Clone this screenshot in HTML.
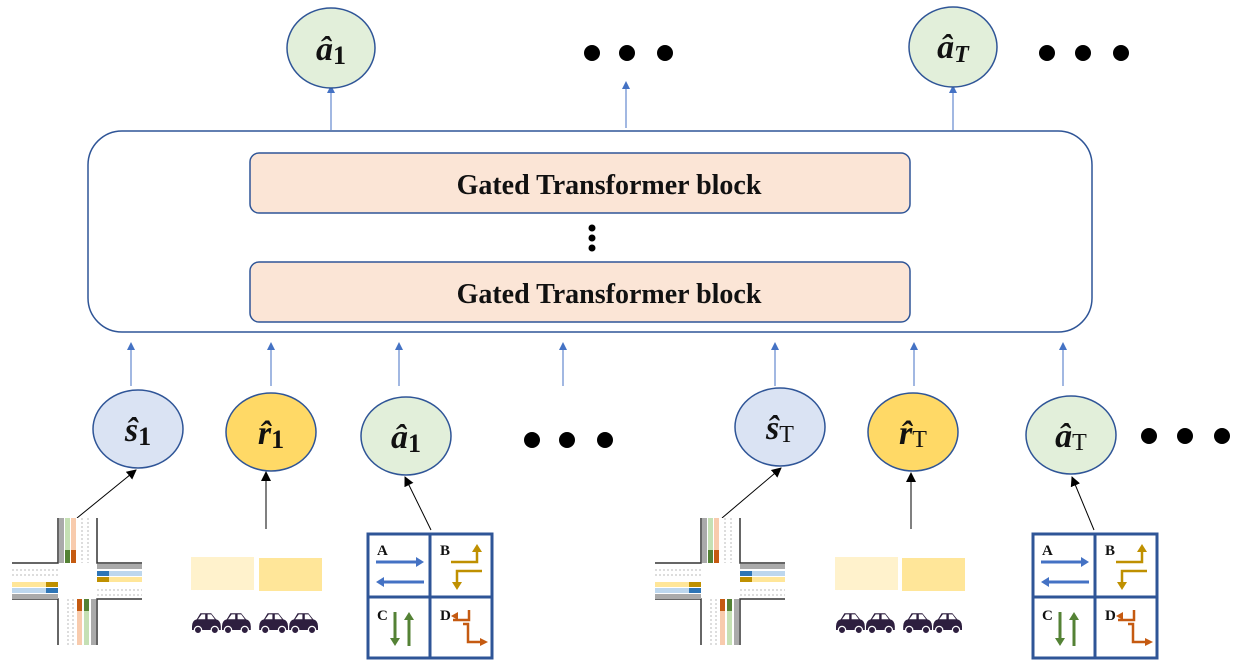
<!DOCTYPE html>
<html><head><meta charset="utf-8"><style>
html,body{margin:0;padding:0;background:#fff;}
svg{display:block;}
.m{font-family:"Liberation Serif",serif;font-style:italic;font-weight:bold;fill:#111;}
.g{font-family:"Liberation Serif",serif;font-weight:bold;fill:#111;}
</style></head><body>
<svg width="1250" height="670" viewBox="0 0 1250 670" xmlns="http://www.w3.org/2000/svg">
<defs>
<marker id="ab" markerWidth="8" markerHeight="8" refX="7" refY="4" orient="auto" markerUnits="userSpaceOnUse"><path d="M0,0 L8,4 L0,8z" fill="#4472c4"/></marker>
<marker id="ak" markerWidth="10" markerHeight="10" refX="9" refY="5" orient="auto" markerUnits="userSpaceOnUse"><path d="M0,0 L10,5 L0,10z" fill="#000"/></marker>
<g id="inter">
 <rect x="46" y="0" width="39" height="127" fill="#fff"/>
 <rect x="0" y="45" width="130" height="36" fill="#fff"/>
 <path d="M46,0 V45 H0 M85,0 V45 H130 M0,81 H46 V127 M130,81 H85 V127" fill="none" stroke="#333" stroke-width="1.5"/>
 <rect x="47" y="0" width="5" height="45" fill="#aaa"/>
 <rect x="53" y="0" width="5" height="45" fill="#c5e0b4"/><rect x="53" y="32" width="5" height="13" fill="#548235"/>
 <rect x="59" y="0" width="5" height="45" fill="#f8cbad"/><rect x="59" y="32" width="5" height="13" fill="#c55a11"/>
 <rect x="85" y="46" width="45" height="5" fill="#aaa"/>
 <rect x="85" y="53" width="45" height="5" fill="#bdd7ee"/><rect x="85" y="53" width="12" height="5" fill="#2e75b6"/>
 <rect x="85" y="59" width="45" height="5" fill="#ffe699"/><rect x="85" y="59" width="12" height="5" fill="#bf9000"/>
 <rect x="0" y="64" width="46" height="5" fill="#ffe699"/><rect x="34" y="64" width="12" height="5" fill="#bf9000"/>
 <rect x="0" y="70" width="46" height="5" fill="#bdd7ee"/><rect x="34" y="70" width="12" height="5" fill="#2e75b6"/>
 <rect x="0" y="76" width="46" height="5" fill="#aaa"/>
 <rect x="65" y="81" width="5" height="46" fill="#f8cbad"/><rect x="65" y="81" width="5" height="12" fill="#c55a11"/>
 <rect x="72" y="81" width="5" height="46" fill="#c5e0b4"/><rect x="72" y="81" width="5" height="12" fill="#548235"/>
 <rect x="79" y="81" width="5" height="46" fill="#aaa"/>
 <path d="M0,52 H46 M0,57 H46 M85,72 H130 M85,77 H130 M70,0 V45 M76,0 V45 M56,81 V127 M61,81 V127" stroke="#bbb" stroke-dasharray="2,2" stroke-width="1"/>
</g>
<g id="car"><path d="M0,12 q0,-5 4,-6 l3,-5 h9 l4,5 q4,1 4,6 v3 h-24z" fill="#2e1f3f"/><circle cx="5" cy="15" r="3" fill="#2e1f3f" stroke="#fff"/><circle cx="19" cy="15" r="3" fill="#2e1f3f" stroke="#fff"/><path d="M8,2 h3 v4 h-6z M13,2 h3 l3,4 h-6z" fill="#fff"/></g>
<g id="grid">
 <rect x="0" y="0" width="124" height="124" fill="#fff" stroke="#2f5597" stroke-width="3"/>
 <path d="M62,0 V124 M0,63 H124" stroke="#2f5597" stroke-width="3"/>
 <path d="M8,28 H50" stroke="#4472c4" stroke-width="3"/><path d="M48,23 L56,28 L48,33z" fill="#4472c4"/>
 <path d="M14,48 H56" stroke="#4472c4" stroke-width="3"/><path d="M16,43 L8,48 L16,53z" fill="#4472c4"/>
 <path d="M83,28 H109 V16" fill="none" stroke="#bf9000" stroke-width="2.5"/><path d="M104,18 L109,10 L114,18z" fill="#bf9000"/>
 <path d="M114,37 H89 V50" fill="none" stroke="#bf9000" stroke-width="2.5"/><path d="M84,48 L89,56 L94,48z" fill="#bf9000"/>
 <path d="M27,78 V106" stroke="#548235" stroke-width="3"/><path d="M22,104 L27,112 L32,104z" fill="#548235"/>
 <path d="M41,112 V84" stroke="#548235" stroke-width="3"/><path d="M36,86 L41,78 L46,86z" fill="#548235"/>
 <path d="M101,76 V86 H85 M95,90 H100 V108 H114" fill="none" stroke="#c55a11" stroke-width="2.5"/><path d="M90,86 L83,82 L90,78z M112,104 L120,108 L112,112z" fill="#c55a11"/>
 <text x="9" y="21" class="g" font-size="15">A</text>
 <text x="72" y="21" class="g" font-size="15">B</text>
 <text x="9" y="86" class="g" font-size="15">C</text>
 <text x="72" y="86" class="g" font-size="15">D</text>
</g>
</defs>

<g stroke="#4472c4" stroke-width="1" marker-end="url(#ab)">
<line x1="331" y1="130" x2="331" y2="86"/><line x1="626" y1="128" x2="626" y2="82"/><line x1="953" y1="130" x2="953" y2="86"/>
<line x1="131" y1="386" x2="131" y2="343"/><line x1="271" y1="386" x2="271" y2="343"/><line x1="399" y1="386" x2="399" y2="343"/><line x1="563" y1="386" x2="563" y2="343"/><line x1="775" y1="386" x2="775" y2="343"/><line x1="914" y1="386" x2="914" y2="343"/><line x1="1063" y1="386" x2="1063" y2="343"/>
</g>
<rect x="88" y="131" width="1004" height="201" rx="34" fill="#fff" stroke="#2f5597" stroke-width="1.5"/>
<rect x="250" y="153" width="660" height="60" rx="9" fill="#fbe5d6" stroke="#2f5597" stroke-width="1.5"/>
<rect x="250" y="262" width="660" height="60" rx="9" fill="#fbe5d6" stroke="#2f5597" stroke-width="1.5"/>
<text x="609" y="194" class="g" font-size="28" text-anchor="middle">Gated Transformer block</text>
<text x="609" y="303" class="g" font-size="28" text-anchor="middle">Gated Transformer block</text>

<!-- top -->
<ellipse cx="331" cy="48" rx="44" ry="40" fill="#e2efda" stroke="#2f5597" stroke-width="1.5"/>
<text x="331" y="60" class="m" font-size="34" text-anchor="middle">â<tspan font-style="normal" font-size="26" dy="4">1</tspan></text>
<ellipse cx="953" cy="47" rx="44" ry="40" fill="#e2efda" stroke="#2f5597" stroke-width="1.5"/>
<text x="953" y="58" class="m" font-size="34" text-anchor="middle">â<tspan font-size="24" dy="4">T</tspan></text>
<g fill="#000"><circle cx="592" cy="53" r="8"/><circle cx="627" cy="53" r="8"/><circle cx="665" cy="53" r="8"/>
<circle cx="1047" cy="53" r="8"/><circle cx="1083" cy="53" r="8"/><circle cx="1121" cy="53" r="8"/>
<circle cx="532" cy="440" r="8"/><circle cx="567" cy="440" r="8"/><circle cx="605" cy="440" r="8"/>
<circle cx="1149" cy="436" r="8"/><circle cx="1185" cy="436" r="8"/><circle cx="1222" cy="436" r="8"/>
<circle cx="592" cy="228" r="3.5"/><circle cx="592" cy="238" r="3.5"/><circle cx="592" cy="248" r="3.5"/></g>

<!-- bottom ellipses -->
<ellipse cx="138" cy="429" rx="45" ry="39" fill="#dae3f3" stroke="#2f5597" stroke-width="1.5"/>
<text x="138" y="441" class="m" font-size="34" text-anchor="middle">ŝ<tspan font-style="normal" font-size="26" dy="4">1</tspan></text>
<ellipse cx="271" cy="432" rx="45" ry="39" fill="#ffd966" stroke="#2f5597" stroke-width="1.5"/>
<text x="271" y="444" class="m" font-size="34" text-anchor="middle">r̂<tspan font-style="normal" font-size="26" dy="4">1</tspan></text>
<ellipse cx="406" cy="436" rx="45" ry="39" fill="#e2efda" stroke="#2f5597" stroke-width="1.5"/>
<text x="406" y="448" class="m" font-size="34" text-anchor="middle">â<tspan font-style="normal" font-size="26" dy="4">1</tspan></text>
<ellipse cx="780" cy="427" rx="45" ry="39" fill="#dae3f3" stroke="#2f5597" stroke-width="1.5"/>
<text x="780" y="439" class="m" font-size="34" text-anchor="middle">ŝ<tspan font-style="normal" font-weight="normal" font-size="24" dy="3">T</tspan></text>
<ellipse cx="913" cy="432" rx="45" ry="39" fill="#ffd966" stroke="#2f5597" stroke-width="1.5"/>
<text x="913" y="444" class="m" font-size="34" text-anchor="middle">r̂<tspan font-style="normal" font-weight="normal" font-size="24" dy="3">T</tspan></text>
<ellipse cx="1071" cy="435" rx="45" ry="39" fill="#e2efda" stroke="#2f5597" stroke-width="1.5"/>
<text x="1071" y="447" class="m" font-size="34" text-anchor="middle">â<tspan font-style="normal" font-weight="normal" font-size="24" dy="3">T</tspan></text>

<g stroke="#000" stroke-width="1" marker-end="url(#ak)">
<line x1="77" y1="518" x2="136" y2="470"/><line x1="266" y1="529" x2="266" y2="472"/><line x1="431" y1="530" x2="405" y2="477"/>
<line x1="722" y1="518" x2="781" y2="468"/><line x1="911" y1="529" x2="911" y2="473"/><line x1="1094" y1="530" x2="1072" y2="477"/>
</g>

<use href="#inter" x="12" y="518"/>
<use href="#inter" x="655" y="518"/>
<rect x="191" y="557" width="63" height="33" fill="#fff2cc"/><rect x="259" y="558" width="63" height="33" fill="#ffe699"/>
<rect x="835" y="557" width="63" height="33" fill="#fff2cc"/><rect x="902" y="558" width="63" height="33" fill="#ffe699"/>
<g transform="translate(192,612) scale(1.2)"><use href="#car" x="0" y="0"/><use href="#car" x="25" y="0"/><use href="#car" x="56" y="0"/><use href="#car" x="81" y="0"/></g>
<g transform="translate(836,612) scale(1.2)"><use href="#car" x="0" y="0"/><use href="#car" x="25" y="0"/><use href="#car" x="56" y="0"/><use href="#car" x="81" y="0"/></g>
<use href="#grid" x="368" y="534"/>
<use href="#grid" x="1033" y="534"/>
</svg>
</body></html>
